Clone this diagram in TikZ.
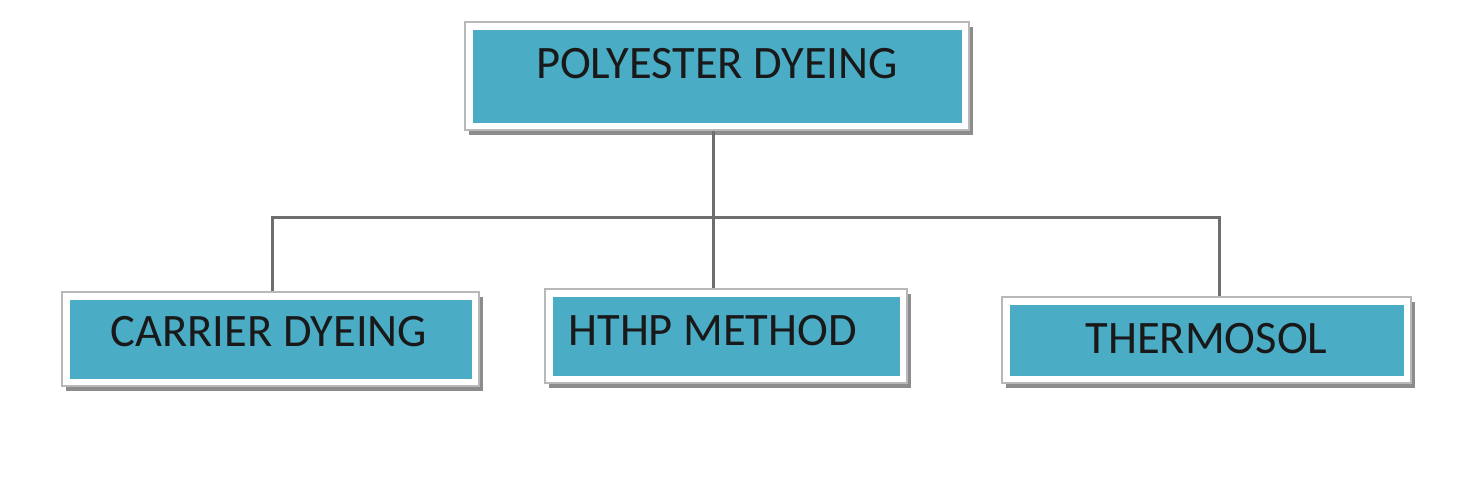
\documentclass[tikz,border=0pt]{standalone}
\usepackage{fontspec}
\setmainfont{Carlito}
\usetikzlibrary{shadows}
\definecolor{dyeblue}{HTML}{4BACC6}
\definecolor{framegray}{HTML}{B8B8B8}
\definecolor{linkgray}{HTML}{6E6E6E}
\definecolor{shadegray}{HTML}{8C8C8C}
\begin{document}
\begin{tikzpicture}[x=1pt, y=-1pt, thick,
    dye box/.style={rectangle, draw=framegray, line width=1.5pt, fill=white, inner sep=0pt,
        drop shadow={shadow xshift=4pt, shadow yshift=-5pt, fill=shadegray, opacity=1},
        path picture={\fill[dyeblue] ([shift={(7.5pt,-7.5pt)}]path picture bounding box.north west)
            rectangle ([shift={(-7.5pt,7.5pt)}]path picture bounding box.south east);}},
    dye text/.style={inner sep=0pt, text=black!90, font=\fontsize{46.5}{55}\selectfont},
    link/.style={draw=linkgray, line width=3pt}]
    \useasboundingbox (0,0) rectangle (1457,485);
    % boxes
    \node[dye box, minimum width=504pt, minimum height=108pt] (top) at (717,76) {};
    \node[dye box, minimum width=417pt, minimum height=94pt] (carrier) at (270.5,339) {};
    \node[dye box, minimum width=362pt, minimum height=94pt] (hthp) at (726,336) {};
    \node[dye box, minimum width=409pt, minimum height=86pt] (thermo) at (1206.5,340) {};
    % texts
    \node[dye text, anchor=base] (top name) at (717,78) {POLYESTER DYEING};
    \node[dye text, anchor=base] (carrier name) at (269,346) {CARRIER DYEING};
    \node[dye text, anchor=base west] (hthp name) at (568,345) {HTHP METHOD};
    \node[dye text, anchor=base] (thermo name) at (1206.5,353) {THERMOSOL};
    % connectors
    \coordinate (hub) at (713,217);
    \coordinate (bus left) at (272,217);
    \coordinate (bus right) at (1219,217);
    \path[link] (top.south -| hub) -- (hthp.north -| hub);
    \path[link] (carrier.north -| bus left) |- (bus right) -- (thermo.north -| bus right);
\end{tikzpicture}
\end{document}
